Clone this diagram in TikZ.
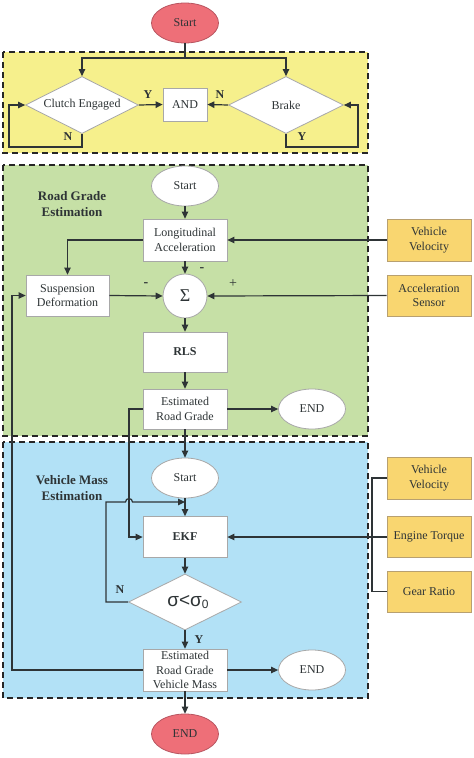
\documentclass[tikz,border=0pt]{standalone}
\usepackage{fontspec}
\setmainfont{Liberation Serif}
\newfontfamily\sigfont{Liberation Sans}
\usetikzlibrary{shapes.geometric,arrows.meta}
\definecolor{yel}{HTML}{F6F08C}
\definecolor{grn}{HTML}{C6E0A6}
\definecolor{blu}{HTML}{B2E1F6}
\definecolor{redf}{HTML}{EE6F78}
\definecolor{redd}{HTML}{B85560}
\definecolor{org}{HTML}{F9D670}
\definecolor{orgd}{HTML}{B8A070}
\definecolor{bd}{HTML}{A8A8A8}
\definecolor{ink}{HTML}{2E3436}
\tikzset{
  frame/.style={draw=black!85, line width=1.3pt, dash pattern=on 6pt off 4pt},
  txt/.style={font=\fontsize{12}{14.5}\selectfont, text=ink, align=center},
  bx/.style={txt, draw=bd, fill=white, line width=0.8pt, minimum width=84, minimum height=41, inner sep=1pt},
  inbox/.style={bx, draw=orgd, fill=org},
  ell/.style={txt, ellipse, draw=bd, fill=white, line width=0.8pt, minimum width=67, minimum height=40, inner sep=0pt},
  redell/.style={ell, draw=redd, fill=redf},
  dia/.style={diamond, draw=bd, fill=white, line width=0.8pt, inner sep=0pt},
  arr/.style={draw=ink, line width=1.2pt, -{Triangle[length=7pt,width=6.5pt]}},
  ln/.style={draw=ink, line width=1.2pt},
  lab/.style={font=\fontsize{12}{14}\selectfont\bfseries, text=ink},
  sign/.style={font=\fontsize{14}{14}\selectfont\bfseries, text=ink},
  ttl/.style={font=\fontsize{13}{16}\selectfont\bfseries, text=ink, align=center}
}
\begin{document}
\begin{tikzpicture}[x=1pt,y=-1pt]
\useasboundingbox (0,0) rectangle (474,758);
% frames
\fill[yel] (3,52) rectangle (368,153);
\draw[frame] (3,52) rectangle (368,153);
\fill[grn] (3,165) rectangle (368,436);
\draw[frame] (3,165) rectangle (368,436);
\fill[blu] (3,442) rectangle (368,698);
\draw[frame] (3,442) rectangle (368,698);

% top part
\node[redell] (st0) at (185,23) {Start};
\node[dia, minimum width=113, minimum height=57] (clutch) at (82,105) {};
\node[txt] (clutchT) at (clutch.center) {Clutch Engaged};
\node[bx, minimum width=44, minimum height=33] (and) at (185,104.5) {AND};
\node[dia, minimum width=115, minimum height=57] (brake) at (286,105) {};
\node[txt] (brakeT) at (brake.center) {Brake};

\coordinate (sp) at (185,58);
\coordinate (cl1) at (9,147);
\coordinate (br1) at (358,147);
\draw[ln] (st0.south) -- (sp);
\draw[arr] (sp) -| (clutch.north);
\draw[arr] (sp) -| (brake.north);
\draw[arr] (clutch.east) -- (and.west);
\draw[arr] (brake.west) -- (and.east);
\draw[arr] (clutch.south) |- (cl1) |- (clutch.west);
\draw[arr] (brake.south) |- (br1) |- (brake.east);
\node[lab] (y1) at (148,95) {Y};
\node[lab] (n1) at (220,95) {N};
\node[lab] (n2) at (68,137) {N};
\node[lab] (y2) at (302,137) {Y};

% road grade estimation
\node[ttl] (rgT) at (72,204) {Road Grade\\Estimation};
\node[ell] (st1) at (185,186) {Start};
\node[bx, minimum height=42] (la) at (185,240) {Longitudinal\\Acceleration};
\node[inbox, minimum height=42] (vv1) at (429,240) {Vehicle\\Velocity};
\node[bx, minimum width=83] (susp) at (67.5,295.5) {Suspension\\Deformation};
\node[txt, circle, draw=bd, fill=white, line width=0.8pt, minimum size=44, inner sep=0pt] (sum) at (185,296) {\fontsize{18}{18}\selectfont Σ};
\node[inbox] (as) at (429,295.5) {Acceleration\\Sensor};
\node[bx, minimum height=40, font=\fontsize{12}{14.5}\selectfont\bfseries] (rls) at (185,352) {RLS};
\node[bx, minimum height=40] (erg) at (185,409) {Estimated\\Road Grade};
\node[ell] (end1) at (312,409) {END};

\draw[arr] (st1) -- (la);
\draw[arr] (vv1.west) -- (la.east);
\draw[arr] (la.west) -| (susp.north);
\draw[arr] (la.south) -- (sum.north);
\draw[arr] (susp.east) -- (sum.west);
\draw[arr] (as.west) -- (sum.east);
\draw[arr] (sum.south) -- (rls.north);
\draw[arr] (rls.south) -- (erg.north);
\draw[arr] (erg.east) -- (end1.west);
\node[sign] (m1) at (202,270) {-};
\node[sign] (m2) at (146,285) {-};
\node[sign, font=\fontsize{14}{14}\selectfont] (p1) at (233,284) {+};

% vehicle mass estimation
\node[ttl] (vmT) at (72,488) {Vehicle Mass\\Estimation};
\node[ell] (st2) at (185,478) {Start};
\node[bx, font=\fontsize{12}{14.5}\selectfont\bfseries] (ekf) at (185,537) {EKF};
\node[dia, minimum width=113, minimum height=56] (sig) at (185,602) {};
\node[txt] (sigT) at (188,602) {\sigfont\fontsize{19}{19}\selectfont σ<σ\raisebox{-2pt}{\fontsize{12}{12}\selectfont 0}};
\node[bx, minimum height=42] (vm) at (185,670) {Estimated\\Road Grade\\Vehicle Mass};
\node[ell] (end2) at (312,670) {END};
\node[redell] (end0) at (185,734) {END};
\node[inbox, minimum height=42] (vv2) at (429,478) {Vehicle\\Velocity};
\node[inbox] (et) at (429,537) {Engine Torque};
\node[inbox] (gr) at (429,591.5) {Gear Ratio};

\draw[arr] (erg.south) -- (st2.north);
\draw[arr] (st2.south) -- (ekf.north);
\coordinate (k1) at (129,409);
\draw[arr] (erg.west) -- (k1) |- (ekf.west);
\coordinate (k2) at (12,670);
\draw[arr] (vm.west) -- (k2) |- (susp.west);
\coordinate (lp1) at (106,602);
\coordinate (hopA) at (125.5,502);
\coordinate (lpEnd) at (185,502);
\draw[arr] (sig.west) -- (lp1) |- (hopA) arc[start angle=180, end angle=360, radius=3.5] -- (lpEnd);
\draw[arr] (ekf.south) -- (sig.north);
\draw[arr] (sig.south) -- (vm.north);
\draw[arr] (vm.east) -- (end2.west);
\draw[arr] (vm.south) -- (end0.north);
\draw[arr] (et.west) -- (ekf.east);
\coordinate (b1) at (372,478);
\coordinate (b2) at (372,591.5);
\draw[ln] (vv2.west) -- (b1) -- (b2) -- (gr.west);
\node[lab] (n3) at (120,590) {N};
\node[lab] (y3) at (199,640) {Y};
\end{tikzpicture}
\end{document}
